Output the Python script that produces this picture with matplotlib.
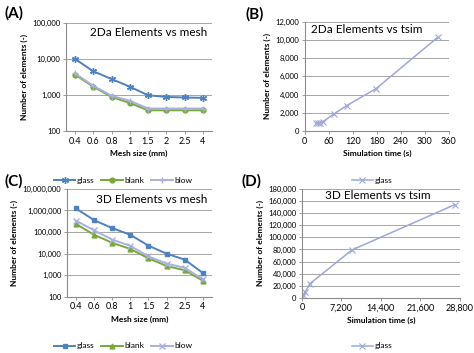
import numpy as np
import matplotlib.pyplot as plt
from matplotlib.ticker import FuncFormatter, FixedLocator

plt.rcParams['font.family'] = ['Lato', 'DejaVu Sans']

# mesh sizes (categorical axis)
mesh = ['0.4', '0.6', '0.8', '1', '1.5', '2', '2.5', '4']

# 2Da elements vs mesh
glass_2d = [10000, 4550, 2780, 1700, 980, 880, 850, 830]
blank_2d = [3670, 1700, 880, 600, 375, 375, 375, 375]
blow_2d = [3950, 1800, 950, 690, 420, 420, 420, 420]

# 2Da elements vs simulation time
tsim_2d = [332, 178, 105, 72, 45, 38, 33, 28]
elem_2d = [10300, 4650, 2800, 1850, 1000, 900, 870, 850]

# 3D elements vs mesh
glass_3d = [1240000, 356000, 153000, 75000, 23500, 10000, 5300, 1280]
blank_3d = [240000, 75000, 32000, 16500, 6100, 2700, 1700, 565]
blow_3d = [340000, 120000, 45000, 23000, 7500, 3500, 2200, 660]

# 3D elements vs simulation time
tsim_3d = [27900, 9100, 1450, 600, 250, 100]
elem_3d = [154000, 79000, 23500, 10000, 5300, 1280]

c_glass = '#4f81bd'
c_blank = '#77a83a'
c_blow = '#a9b0de'
c_line = '#9ea7d8'
grid_c = '#a6a6a6'

comma = FuncFormatter(lambda v, p: f'{v:,.0f}')


def style(ax):
    for s in ['top', 'right']:
        ax.spines[s].set_visible(False)
    for s in ['left', 'bottom']:
        ax.spines[s].set_color('#8c8c8c')
        ax.spines[s].set_linewidth(0.8)
    ax.grid(axis='y', color=grid_c, linewidth=0.7)
    ax.set_axisbelow(True)
    ax.tick_params(axis='both', length=2, width=0.6, color='#8c8c8c',
                   labelsize=5.5, pad=2)
    ax.tick_params(axis='x', labelsize=6.5)
    ax.minorticks_off()
    ax.yaxis.set_major_formatter(comma)
    ax.set_ylabel('Number of elements (-)', fontsize=6, fontweight='bold', labelpad=3)


fig = plt.figure(figsize=(4.74, 3.53), dpi=100)

# (A)
axA = fig.add_axes([0.139, 0.629, 0.308, 0.306])
xA = np.arange(len(mesh))
lA1, = axA.plot(xA, glass_2d, color=c_glass, marker=(6, 2, 0), ms=5, mew=1, lw=1.4, label='glass')
lA2, = axA.plot(xA, blank_2d, color=c_blank, marker='o', ms=3.5, lw=1.4, label='blank')
lA3, = axA.plot(xA, blow_2d, color=c_blow, marker='+', ms=5, mew=1, lw=1.4, label='blow')
axA.set_yscale('log')
axA.set_ylim(100, 100000)
axA.yaxis.set_major_locator(FixedLocator([100, 1000, 10000, 100000]))
axA.set_xlim(-0.5, len(mesh) - 0.5)
axA.set_xticks(xA)
axA.set_xticklabels(mesh)
style(axA)
axA.set_xlabel('Mesh size (mm)', fontsize=6, fontweight='bold', labelpad=3)
axA.text(0.97, 0.915, '2Da Elements vs mesh', transform=axA.transAxes, ha='right',
         va='center', fontsize=8.5)
fig.legend(handles=[lA1, lA2, lA3], loc='center', bbox_to_anchor=(0.26, 0.49),
           ncol=3, frameon=False, fontsize=6, handlelength=2.6, columnspacing=0.8,
           handletextpad=0.2)

# (B)
axB = fig.add_axes([0.643, 0.629, 0.304, 0.309])
lB, = axB.plot(tsim_2d, elem_2d, color=c_line, marker='x', ms=4, mew=0.8, lw=1.1, label='glass')
axB.set_xlim(0, 360)
axB.set_xticks(np.arange(0, 361, 60))
axB.set_ylim(0, 12000)
axB.set_yticks(np.arange(0, 12001, 2000))
style(axB)
axB.set_xlabel('Simulation time (s)', fontsize=6, fontweight='bold', labelpad=3)
axB.text(0.04, 0.93, '2Da Elements vs tsim', transform=axB.transAxes, ha='left',
         va='center', fontsize=8.5)
fig.legend(handles=[lB], loc='center', bbox_to_anchor=(0.785, 0.49),
           frameon=False, fontsize=6, handlelength=2.6, handletextpad=0.2)

# (C)
axC = fig.add_axes([0.141, 0.159, 0.306, 0.306])
lC1, = axC.plot(xA, glass_3d, color=c_glass, marker='s', ms=3.5, lw=1.4, label='glass')
lC2, = axC.plot(xA, blank_3d, color=c_blank, marker='^', ms=3.5, lw=1.4, label='blank')
lC3, = axC.plot(xA, blow_3d, color=c_blow, marker='x', ms=4, mew=1, lw=1.4, label='blow')
axC.set_yscale('log')
axC.set_ylim(100, 10000000)
axC.yaxis.set_major_locator(FixedLocator([10 ** k for k in range(2, 8)]))
axC.set_xlim(-0.5, len(mesh) - 0.5)
axC.set_xticks(xA)
axC.set_xticklabels(mesh)
style(axC)
axC.set_xlabel('Mesh size (mm)', fontsize=6, fontweight='bold', labelpad=3)
axC.text(0.97, 0.905, '3D Elements vs mesh', transform=axC.transAxes, ha='right',
         va='center', fontsize=8.5)
fig.legend(handles=[lC1, lC2, lC3], loc='center', bbox_to_anchor=(0.26, 0.02),
           ncol=3, frameon=False, fontsize=6, handlelength=2.6, columnspacing=0.8,
           handletextpad=0.2)

# (D)
axD = fig.add_axes([0.637, 0.156, 0.333, 0.309])
lD, = axD.plot(tsim_3d, elem_3d, color=c_line, marker='x', ms=4, mew=0.8, lw=1.1, label='glass')
axD.set_xlim(0, 28800)
axD.set_xticks(np.arange(0, 28801, 7200))
axD.xaxis.set_major_formatter(comma)
axD.set_ylim(0, 180000)
axD.set_yticks(np.arange(0, 180001, 20000))
style(axD)
axD.set_xlabel('Simulation time (s)', fontsize=6, fontweight='bold', labelpad=3)
axD.text(0.48, 0.935, '3D Elements vs tsim', transform=axD.transAxes, ha='center',
         va='center', fontsize=8.5)
fig.legend(handles=[lD], loc='center', bbox_to_anchor=(0.785, 0.02),
           frameon=False, fontsize=6, handlelength=2.6, handletextpad=0.2)

# panel letters
for lab, x, y in [('(A)', 0.01, 0.962), ('(B)', 0.517, 0.958),
                  ('(C)', 0.01, 0.487), ('(D)', 0.51, 0.487)]:
    fig.text(x, y, lab, fontsize=11, fontweight='bold', va='center')

fig.savefig('out.png', dpi=100)
